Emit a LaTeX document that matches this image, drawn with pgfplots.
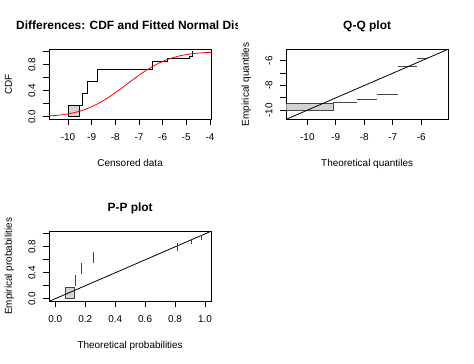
\documentclass[border=0pt]{standalone}
\usepackage{pgfplots}
\pgfplotsset{compat=1.18}
\usepackage{fontspec}
\setmainfont{Liberation Sans}
\definecolor{rgrey}{RGB}{211,211,211}
\definecolor{seg}{RGB}{70,70,70}
\pgfplotsset{
  rstyle/.style={
    scale only axis, width=161.7bp, height=70bp,
    axis line style={line width=0.8bp},
    tick style={line width=0.8bp, black},
    major tick length=6bp,
    tick align=outside,
    xtick pos=bottom, ytick pos=left,
    tick label style={font=\fontsize{10}{12}\selectfont},
    label style={font=\fontsize{10}{12}\selectfont},
    xticklabel style={anchor=base, yshift=-15.5bp},
    yticklabel style={xshift=-8bp, rotate=90, anchor=base},
    xlabel style={at={(axis description cs:0.5,0)}, anchor=base, yshift=-47bp},
    ylabel style={at={(axis description cs:-0.2313,0.5)}, anchor=base},
    title style={at={(axis description cs:0.5,1)}, anchor=base, yshift=14bp, font=\fontsize{12}{14}\selectfont\bfseries},
    clip=true,
  }
}
\begin{document}
\begin{tikzpicture}
% ---------- Panel 1: CDF ----------
\begin{axis}[rstyle,
  at={(49.3bp,244.7bp)}, anchor=south west,
  xmin=-10.79, xmax=-3.958, ymin=-0.04, ymax=1.04,
  xtick={-10,-9,-8,-7,-6,-5,-4}, xticklabels={-10,-9,-8,-7,-6,-5,-4},
  ytick={0,0.2,0.4,0.6,0.8,1}, yticklabels={0.0,,0.4,,0.8,},
  xlabel={Censored data}, ylabel={CDF}]
\addplot[draw=black, fill=rgrey, line width=0.8bp] coordinates {(-10,0) (-9.5,0) (-9.5,0.182) (-10,0.182)} -- cycle;
\addplot[const plot mark left, black, line width=0.8bp] coordinates {
(-9.5,0.182) (-9.4,0.364) (-9.18,0.545) (-8.75,0.727) (-6.44,0.86) (-5.78,0.90) (-4.88,0.937) (-4.74,1.0) (-4.72,1.0)};
\addplot[red, line width=0.8bp, smooth] coordinates {
(-10.8,0.0119) (-10.5,0.0199) (-10.25,0.0299) (-10,0.0436) (-9.75,0.0620) (-9.5,0.0860)
(-9.25,0.1164) (-9,0.1537) (-8.75,0.1982) (-8.5,0.2495) (-8.25,0.3074) (-8,0.3703)
(-7.75,0.4369) (-7.5,0.5055) (-7.25,0.5738) (-7,0.6401) (-6.75,0.7023) (-6.5,0.7591)
(-6.25,0.8095) (-6,0.8527) (-5.75,0.8889) (-5.5,0.9182) (-5.25,0.9413) (-5,0.9589)
(-4.75,0.9720) (-4.5,0.9814) (-4.25,0.9879) (-4,0.9924) (-3.95,0.9931)};
\end{axis}
% ---------- Panel 2: Q-Q ----------
\begin{axis}[rstyle,
  at={(286.3bp,244.7bp)}, anchor=south west,
  xmin=-10.74, xmax=-5.06, ymin=-10.74, ymax=-5.06,
  xtick={-10,-9,-8,-7,-6}, xticklabels={-10,-9,-8,-7,-6},
  ytick={-10,-9,-8,-7,-6}, yticklabels={-10,,-8,,-6},
  xlabel={Theoretical quantiles}, ylabel={Empirical quantiles},
  title={Q-Q plot}]
\addplot[draw=seg, fill=rgrey, line width=0.8bp] coordinates {(-11,-10) (-9.10,-10) (-9.10,-9.46) (-11,-9.46)} -- cycle;
\addplot[seg, line width=0.8bp] coordinates {(-9.10,-9.34) (-8.25,-9.34)};
\addplot[seg, line width=0.8bp] coordinates {(-8.25,-9.12) (-7.57,-9.12)};
\addplot[seg, line width=0.8bp] coordinates {(-7.57,-8.74) (-6.81,-8.74)};
\addplot[seg, line width=0.8bp] coordinates {(-6.81,-6.46) (-6.14,-6.46)};
\addplot[seg, line width=0.8bp] coordinates {(-6.14,-5.78) (-5.75,-5.78)};
\addplot[black, line width=0.8bp] coordinates {(-11,-11) (-5,-5)};
\end{axis}
% ---------- Panel 3: P-P ----------
\begin{axis}[rstyle,
  at={(49.3bp,62.7bp)}, anchor=south west,
  xmin=-0.04, xmax=1.04, ymin=-0.04, ymax=1.04,
  xtick={0,0.2,0.4,0.6,0.8,1}, xticklabels={0.0,0.2,0.4,0.6,0.8,1.0},
  ytick={0,0.2,0.4,0.6,0.8,1}, yticklabels={0.0,,0.4,,0.8,},
  xlabel={Theoretical probabilities}, ylabel={Empirical probabilities},
  title={P-P plot}]
\addplot[draw=seg, fill=rgrey, line width=0.8bp] coordinates {(0.065,0) (0.125,0) (0.125,0.18) (0.065,0.18)} -- cycle;
\addplot[seg, line width=0.8bp] coordinates {(0.136,0.19) (0.136,0.37)};
\addplot[seg, line width=0.8bp] coordinates {(0.172,0.38) (0.172,0.55)};
\addplot[seg, line width=0.8bp] coordinates {(0.254,0.55) (0.254,0.727)};
\addplot[black, line width=0.8bp] coordinates {(-0.1,-0.1) (1.1,1.1)};
\addplot[seg, line width=0.8bp] coordinates {(0.813,0.74) (0.813,0.86)};
\addplot[seg, line width=0.8bp] coordinates {(0.906,0.85) (0.906,0.90)};
\addplot[seg, line width=0.8bp] coordinates {(0.978,0.90) (0.978,0.98)};
\end{axis}
% ---------- Panel 1 title (clipped at panel edge) ----------
\begin{scope}
\clip (0,182bp) rectangle (237bp,364bp);
\node[anchor=base west, inner sep=0pt, font=\fontsize{12}{14}\selectfont\bfseries] at (16bp,334.7bp) {Differences: CDF and Fitted Normal Distribution};
\end{scope}
\pgfresetboundingbox
\useasboundingbox (0,0) rectangle (474bp,364bp);
\end{tikzpicture}
\end{document}
